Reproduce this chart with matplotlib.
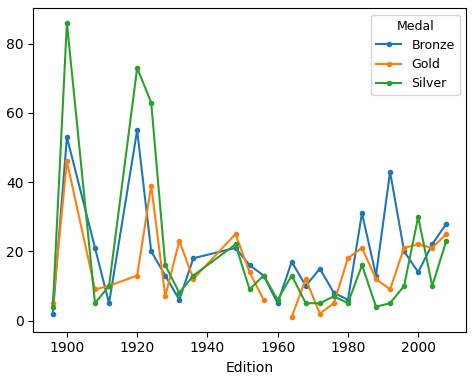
import numpy as np
import pandas as pd
import matplotlib
matplotlib.use("Agg")
import matplotlib.pyplot as plt

editions = [1896, 1900, 1908, 1912, 1920, 1924, 1928, 1932, 1936, 1948, 1952,
            1956, 1960, 1964, 1968, 1972, 1976, 1980, 1984, 1988, 1992, 1996,
            2000, 2004, 2008]
bronze = [2, 53, 21, 5, 55, 20, 13, 6, 18, 21, 16, 13, 5, 17, 10, 15, 8, 6,
          31, 13, 43, 20, 14, 22, 28]
gold = [5, 46, 9, 10, 13, 39, 7, 23, 12, 25, 14, 6, np.nan, 1, 12, 2, 5, 18,
        21, 12, 9, 21, 22, 21, 25]
silver = [4, 86, 5, 10, 73, 63, 16, 8, 13, 22, 9, 13, 6, 13, 5, 5, 7, 5, 16,
          4, 5, 10, 30, 10, 23]

df = pd.DataFrame({"Bronze": bronze, "Gold": gold, "Silver": silver},
                  index=pd.Index(editions, name="Edition"))
df.columns.name = "Medal"

fig, ax = plt.subplots(figsize=(4.74, 3.77), dpi=100)
df.plot(ax=ax, marker=".")
ax.legend(title="Medal", loc="upper right", fontsize=9, title_fontsize=9)
fig.subplots_adjust(left=0.07, right=0.983, top=0.978, bottom=0.12)
fig.savefig("out.png")
